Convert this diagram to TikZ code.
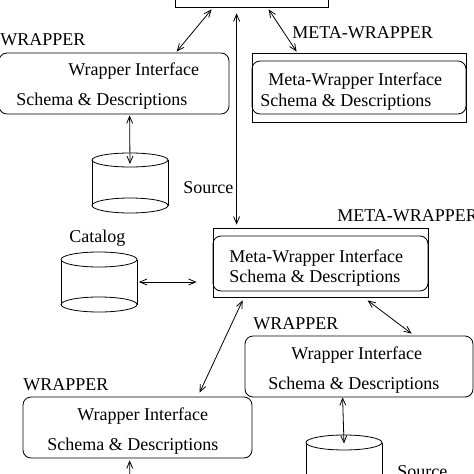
\documentclass[tikz,border=0pt]{standalone}
\usepackage{fontspec}
\setmainfont{Liberation Serif}
\usetikzlibrary{arrows.meta,calc}
\begin{document}
\begin{tikzpicture}[x=1pt,y=-1pt,
  line width=0.8pt,
  box/.style={draw, inner sep=0pt, minimum width=#1},
  rbox/.style={draw, rounded corners=8pt, inner sep=0pt, minimum width=#1},
  lbl/.style={anchor=base west, inner sep=0pt, font=\fontsize{18}{20}\selectfont},
  dbl/.style={{Straight Barb[length=7pt,width=6pt]}-{Straight Barb[length=7pt,width=6pt]}},
  cyl/.style={draw}
]
\clip (0,0) rectangle (474,474);
\fill[white] (0,0) rectangle (474,474);

% boxes
\node[box=153pt, minimum height=27pt] (top) at (251.5,-6.5) {};
\node[rbox=230pt, minimum height=61pt] (lw) at (114,83.5) {};
\node[box=214pt, minimum height=69pt] (rmo) at (359,87.5) {};
\node[rbox=214pt, minimum height=53pt] (rmi) at (359,87.5) {};
\node[box=215pt, minimum height=69pt] (mmo) at (320.5,262.5) {};
\node[rbox=215pt, minimum height=55pt] (mmi) at (320.5,263.5) {};
\node[rbox=228pt, minimum height=61pt] (rw) at (359,366.5) {};
\node[rbox=229pt, minimum height=61pt] (bl) at (137.5,427.5) {};

% cylinders
\draw (130,160) ellipse [x radius=38, y radius=7];
\draw (130,205.5) ellipse [x radius=38, y radius=7.5];
\draw (92,160) -- (92,205.5) (168,160) -- (168,205.5);
\coordinate (c1) at (130,160);

\draw (99,259.5) ellipse [x radius=38, y radius=7.5];
\draw (99,304.5) ellipse [x radius=38, y radius=7.5];
\draw (61,259.5) -- (61,304.5) (137,259.5) -- (137,304.5);
\coordinate (c2) at (137,282);

\draw (344,442.5) ellipse [x radius=38, y radius=7.5];
\draw (306,442.5) -- (306,490) (382,442.5) -- (382,490);
\coordinate (c3) at (344,442.5);

\coordinate (blend) at (130,485);

% connectors
\draw[dbl] ($(top.south west)+(37,2)$) -- ($(lw.north west)+(178,-1)$);
\draw[dbl] ($(top.south west)+(62,6)$) -- ($(mmo.north west)+(24,-3)$);
\draw[dbl] ($(top.south west)+(94,2)$) -- ($(rmo.north west)+(45,-1)$);
\draw[dbl] ($(lw.south west)+(131,1)$) -- ($(c1)+(0,4)$);
\draw[dbl] ($(c2)+(2,0)$) -- ($(mmo.west)+(-16,19.5)$);
\draw[dbl] ($(mmo.south west)+(30,3)$) -- ($(bl.north west)+(177,-4)$);
\draw[dbl] ($(mmo.south west)+(155,3)$) -- ($(rw.north west)+(167,-2)$);
\draw[dbl] ($(rw.south west)+(98,0)$) -- ($(c3)+(0,1)$);
\draw[dbl] ($(bl.south west)+(107,2)$) -- (blend);

% labels
\node[lbl] (w1) at (0,45) {WRAPPER};
\node[lbl] (lwa) at (68,75) {Wrapper Interface};
\node[lbl] (lwb) at (16,105) {Schema \& Descriptions};
\node[lbl] (mw1) at (292,38) {META-WRAPPER};
\node[lbl] (rma) at (268,85) {Meta-Wrapper Interface};
\node[lbl] (rmb) at (260,106) {Schema \& Descriptions};
\node[lbl] (s1) at (183,193) {Source};
\node[lbl] (mw2) at (337,221) {META-WRAPPER};
\node[lbl] (mma) at (229,262) {Meta-Wrapper Interface};
\node[lbl] (mmb) at (229,282) {Schema \& Descriptions};
\node[lbl] (cat) at (69,242) {Catalog};
\node[lbl] (w2) at (253,329) {WRAPPER};
\node[lbl] (rwa) at (291,359) {Wrapper Interface};
\node[lbl] (rwb) at (268,389) {Schema \& Descriptions};
\node[lbl] (w3) at (23,390) {WRAPPER};
\node[lbl] (bla) at (77,420) {Wrapper Interface};
\node[lbl] (blb) at (47,450) {Schema \& Descriptions};
\node[lbl] (s2) at (397,477) {Source};
\end{tikzpicture}
\end{document}
